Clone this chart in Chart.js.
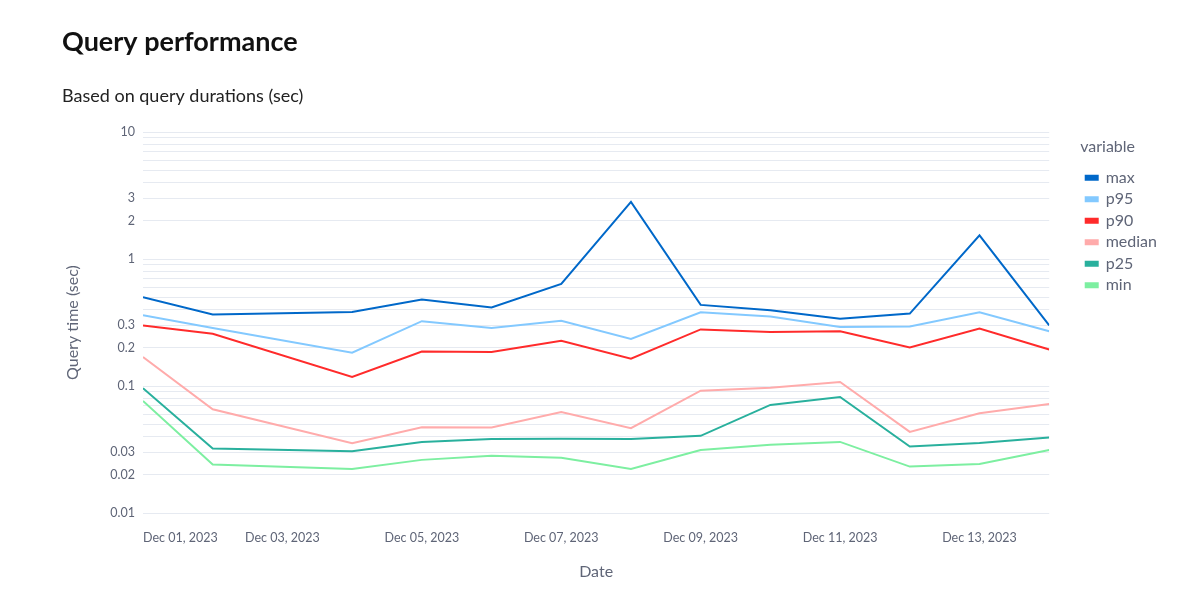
<!DOCTYPE html>
<html>
<head>
<meta charset="utf-8">
<script src="https://cdn.jsdelivr.net/npm/chart.js@4.4.1/dist/chart.umd.min.js"></script>
<style>
  html, body { margin:0; padding:0; background:#fff; }
  #wrap { width:1200px; height:600px; }
</style>
</head>
<body>
<div id="wrap"><canvas id="c" width="1200" height="600"></canvas></div>
<script>
// days of December 2023 (no row for Dec 03)
const days = [1, 2, 4, 5, 6, 7, 8, 9, 10, 11, 12, 13, 14];

const maxVals    = [0.50, 0.366, 0.383, 0.48, 0.415, 0.636, 2.82, 0.435, 0.395, 0.338, 0.372, 1.535, 0.30];
const p95Vals    = [0.361, 0.286, 0.183, 0.324, 0.286, 0.326, 0.235, 0.381, 0.353, 0.291, 0.294, 0.381, 0.270];
const p90Vals    = [0.300, 0.258, 0.118, 0.187, 0.185, 0.227, 0.164, 0.279, 0.266, 0.270, 0.201, 0.284, 0.194];
const medianVals = [0.169, 0.0656, 0.0355, 0.0474, 0.0471, 0.0625, 0.0465, 0.0919, 0.097, 0.1075, 0.0435, 0.061, 0.0722];
const p25Vals    = [0.096, 0.0322, 0.0307, 0.0363, 0.0383, 0.0385, 0.0383, 0.0405, 0.071, 0.082, 0.0334, 0.0355, 0.0393];
const minVals    = [0.0762, 0.0241, 0.0222, 0.0262, 0.0282, 0.0272, 0.0222, 0.0313, 0.0344, 0.0363, 0.0232, 0.0243, 0.0313];

const xTicks = [1, 3, 5, 7, 9, 11, 13, 14];
const yGrid = [0.01, 0.02, 0.03, 0.04, 0.05, 0.06, 0.07, 0.08, 0.09,
               0.1, 0.2, 0.3, 0.4, 0.5, 0.6, 0.7, 0.8, 0.9,
               1, 2, 3, 4, 5, 6, 7, 8, 9, 10];
const yLabels = [0.01, 0.02, 0.03, 0.1, 0.2, 0.3, 1, 2, 3, 10];

const FONT = 'Lato, "Noto Sans", sans-serif';
const axisCol = '#5f6577';
const gridCol = '#e6eaf1';

const series = [
  ['max', maxVals, '#0068c9'],
  ['p95', p95Vals, '#83c9ff'],
  ['p90', p90Vals, '#ff2b2b'],
  ['median', medianVals, '#ffabab'],
  ['p25', p25Vals, '#29b09d'],
  ['min', minVals, '#7defa1'],
];

const datasets = series.map(([name, vals, col]) => ({
  label: name,
  data: days.map((d, i) => ({ x: d, y: vals[i] })),
  borderColor: col, backgroundColor: col,
  borderWidth: 2, pointRadius: 0, tension: 0
}));

new Chart(document.getElementById('c'), {
  type: 'line',
  data: { datasets },
  options: {
    responsive: false, animation: false,
    layout: { padding: { top: 10, left: 62, right: 33, bottom: 10 } },
    plugins: {
      tooltip: { enabled: false },
      title: {
        display: true, text: 'Query performance', align: 'start', color: '#111',
        font: { family: FONT, size: 27, weight: 'bold' }, padding: { top: 16, bottom: 0 }
      },
      subtitle: {
        display: true, text: 'Based on query durations (sec)', align: 'start', color: '#222',
        font: { family: FONT, size: 18 }, padding: { top: 27, bottom: 25 }
      },
      legend: {
        position: 'right', align: 'start', fullSize: false,
        title: { display: true, text: 'variable', color: axisCol, position: 'start',
                 font: { family: FONT, size: 16 }, padding: { top: 7, bottom: 6 } },
        labels: { boxWidth: 12, boxHeight: 4, padding: 5.5, color: axisCol,
                  font: { family: FONT, size: 16 } }
      }
    },
    scales: {
      x: {
        type: 'linear', min: 1, max: 14,
        afterBuildTicks: s => { s.ticks = xTicks.map(v => ({ value: v })); },
        afterFit: s => { s.height = 77; },
        grid: { display: false }, border: { display: false },
        ticks: {
          color: axisCol, font: { family: FONT, size: 12.5 }, padding: 9,
          autoSkip: false, maxRotation: 0, align: 'inner',
          callback: v => v === 14 ? '' : 'Dec ' + String(v).padStart(2, '0') + ', 2023'
        },
        title: { display: true, text: 'Date', color: axisCol,
                 font: { family: FONT, size: 16 }, padding: { top: 9, bottom: 9 } }
      },
      y: {
        type: 'logarithmic', min: 0.01, max: 10,
        afterBuildTicks: s => { s.ticks = yGrid.map(v => ({ value: v })); },
        afterFit: s => { s.width = 81; },
        grid: { color: gridCol, lineWidth: 1, drawTicks: false }, border: { display: false },
        ticks: {
          color: axisCol, font: { family: FONT, size: 12.5 }, padding: 8, autoSkip: false,
          callback: v => yLabels.includes(v) ? String(v) : ''
        },
        title: { display: true, text: 'Query time (sec)', color: axisCol,
                 font: { family: FONT, size: 16 }, padding: { top: 1, bottom: 1 } }
      },
      gap: {
        type: 'linear', position: 'right', display: true,
        grid: { display: false }, border: { display: false }, ticks: { display: false },
        afterFit: s => { s.width = 31; }
      }
    }
  }
});
</script>
</body>
</html>
